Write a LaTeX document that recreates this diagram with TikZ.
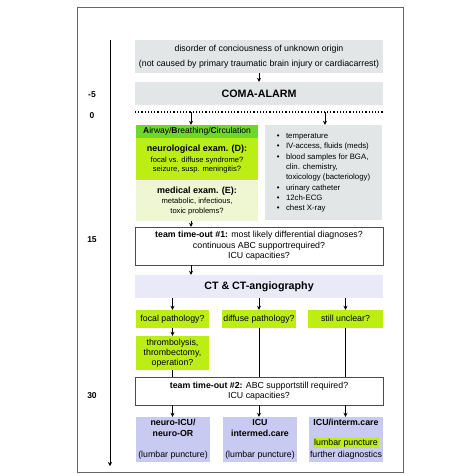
\documentclass[tikz,border=0pt]{standalone}
\usepackage{fontspec}
\setmainfont{Liberation Sans}
\usetikzlibrary{arrows.meta}

\definecolor{boxgrey}{HTML}{E3E6E6}
\definecolor{abcgreen}{HTML}{6FD62A}
\definecolor{limegreen}{HTML}{BDEE14}
\definecolor{palegreen}{HTML}{EEF7D2}
\definecolor{palelav}{HTML}{E9E9F8}
\definecolor{unitlav}{HTML}{C8CAF2}
\newcommand{\fnorm}{\fontsize{8.8}{10.5}\selectfont}
\newcommand{\fsm}{\fontsize{7.6}{9.6}\selectfont}
\newcommand{\flist}{\fontsize{7.8}{10.3}\selectfont}

\begin{document}
\begin{tikzpicture}[x=1pt, y=-1pt,
	every node/.style={inner sep=0pt, align=center, font=\fnorm},
	wide/.style={minimum width=248pt},
	greybox/.style={wide, fill=boxgrey},
	timeout/.style={wide, fill=white, draw=black!70, thin},
	pathbox/.style={fill=limegreen, minimum width=73pt},
	oneline/.style={text height=6.5pt, text depth=2pt},
	unitbox/.style={fill=unitlav, minimum width=74pt, minimum height=45pt},
	arr/.style={thick, -{Stealth[length=4pt, width=4pt]}}]
	\useasboundingbox (0,0) rectangle (474,474);
	% frame and time line
	\draw[black!60] (77,7) rectangle (403,472);
	\coordinate (tstart) at (110,40); \coordinate (tend) at (110,466);
	\draw[arr] (tstart) -- (tend);
	\foreach \t/\y in {-5/95, 0/116, 15/240, 30/396}
	{
		\node[font=\fontsize{8.5}{10}\selectfont\bfseries] (t\t) at (92,\y) {\t};
	}
	% arrival
	\node[greybox, minimum height=33pt] (origin) at (259,56.5)
		{disorder of conciousness of unknown origin\\[5pt]
		 (not caused by primary traumatic brain injury or cardiacarrest)};
	\node[greybox, minimum height=23pt, font=\fontsize{10.7}{12}\selectfont\bfseries] (alarm) at (259,93.5) {COMA-ALARM};
	\draw[arr] (origin) -- (alarm);
	\coordinate (dl) at (135,112); \coordinate (dr) at (383,112);
	\draw[very thick, dotted] (dl) -- (dr);
	\coordinate (a1) at (191,112); \coordinate (a2) at (325,112);
	% first examination
	\node[fill=abcgreen, minimum width=122pt, minimum height=13pt, font=\fontsize{8.5}{10}\selectfont] (abc) at (197,131.5)
		{\textbf{A}irway/\textbf{B}reathing/\textbf{C}irculation};
	\node[fill=limegreen, minimum width=122pt, minimum height=42pt, anchor=north] (neuro) at (abc.south)
		{{\fontsize{9}{10}\selectfont\bfseries neurological exam. (D):}\\
		 {\fsm focal vs. diffuse syndrome?}\\[-1pt]{\fsm seizure, susp. meningitis?}};
	\node[fill=palegreen, minimum width=122pt, minimum height=40pt, anchor=north] (medical) at (neuro.south)
		{{\fontsize{9}{10}\selectfont\bfseries medical exam. (E):}\\
		 {\fsm metabolic, infectious,}\\[-1pt]{\fsm toxic problems?}};
	\node[fill=boxgrey, minimum width=117pt, minimum height=95pt, align=left, font=\flist] (care) at (323.5,172.5)
		{\begin{tabular}{@{}l@{\hspace{6.5pt}}l@{}}
		 \textbullet & temperature\\
		 \textbullet & IV-access, fluids (meds)\\
		 \textbullet & blood samples for BGA,\\
		  & clin. chemistry,\\
		  & toxicology (bacteriology)\\
		 \textbullet & urinary catheter\\
		 \textbullet & 12ch-ECG\\
		 \textbullet & chest X-ray
		 \end{tabular}};
	\draw[arr] (a1) -- (abc.north -| a1);
	\draw[arr] (a2) -- (care.north -| a2);
	% first time-out and imaging
	\node[timeout, minimum height=38pt] (out1) at (259,246)
		{\textbf{team time-out \#1:} most likely differential diagnoses?\\
		 continuous ABC supportrequired?\\ ICU capacities?};
	\draw[arr] (medical.south -| a1) -- (out1.north -| a1);
	\node[wide, fill=palelav, minimum height=23pt, font=\fontsize{10.7}{12}\selectfont\bfseries] (ct) at (259,286.5)
		{CT \& CT-angiography};
	\draw[arr] (out1.south -| a1) -- (ct.north -| a1);
	% findings
	\node[pathbox, oneline, minimum height=18pt] (focal) at (172.5,319) {focal pathology?};
	\node[pathbox, oneline, minimum height=18pt, minimum width=74pt] (diffuse) at (259,319) {diffuse pathology?};
	\node[pathbox, oneline, minimum height=18pt, minimum width=75pt] (unclear) at (345.5,319) {still unclear?};
	\node[pathbox, minimum height=34pt, font=\fontsize{8.8}{10}\selectfont] (thrombo) at (172.5,353) {thrombolysis,\\ thrombectomy,\\ operation?};
	\foreach \n in {focal,diffuse,unclear}
	{
		\draw[arr] (ct.south -| \n) -- (\n);
	}
	\draw[arr] (focal) -- (thrombo);
	% second time-out
	\node[timeout, minimum height=28pt] (out2) at (259,391)
		{\textbf{team time-out \#2:} ABC supportstill required?\\ ICU capacities?};
	\draw[thick] (thrombo) -- (out2.north -| thrombo);
	\draw[thick] (diffuse) -- (out2.north -| diffuse);
	\draw[thick] (unclear) -- (out2.north -| unclear);
	% admission
	\node[unitbox] (nicu) at (173,439.5)
		{\textbf{neuro-ICU/}\\ \textbf{neuro-OR}\\[11pt] (lumbar puncture)};
	\node[unitbox] (icu) at (260,439.5)
		{\textbf{ICU}\\ \textbf{intermed.care}\\[11pt] (lumbar puncture)};
	\node[unitbox] (imc) at (346,439.5)
		{\textbf{ICU/interm.care}\\[9pt]
		 {\setlength{\fboxsep}{1pt}\colorbox{limegreen}{lumbar puncture}}\\[2pt]
		 further diagnostics};
	\draw[arr] (out2.south -| thrombo) -- (nicu.north -| thrombo);
	\draw[arr] (out2.south -| diffuse) -- (icu.north -| diffuse);
	\draw[arr] (out2.south -| unclear) -- (imc.north -| unclear);
\end{tikzpicture}
\end{document}
